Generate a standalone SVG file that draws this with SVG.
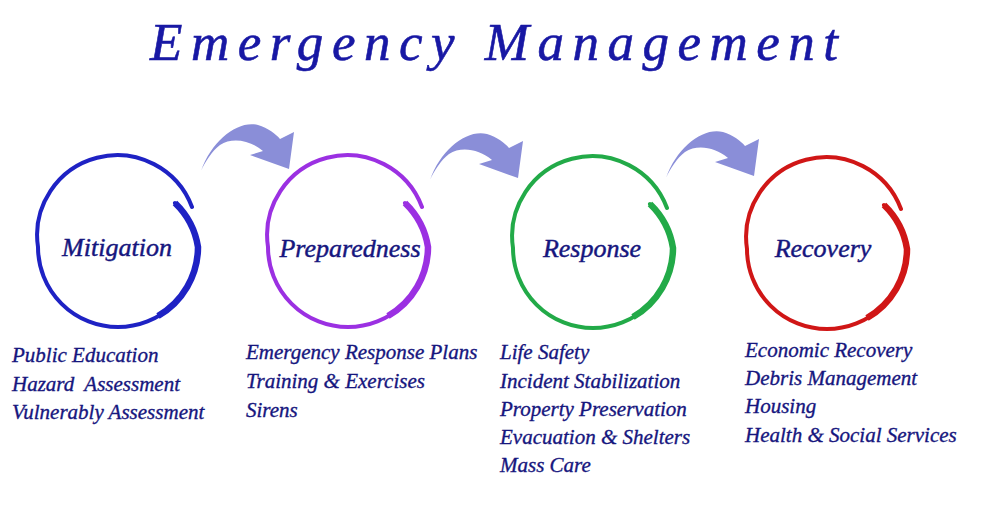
<svg xmlns="http://www.w3.org/2000/svg" xmlns:xlink="http://www.w3.org/1999/xlink" width="992" height="506" viewBox="0 0 992 506">
<style>
.title{font-family:"Liberation Serif","Times New Roman",serif;font-style:italic;font-size:53px;fill:#1818a4;stroke:#1818a4;stroke-width:0.6}
.label{font-family:"Liberation Serif","Times New Roman",serif;font-style:italic;font-size:26px;fill:#16167e;stroke:#16167e;stroke-width:0.45;text-anchor:middle}
.item{font-family:"Liberation Serif","Times New Roman",serif;font-style:italic;font-size:21px;fill:#16167e;stroke:#16167e;stroke-width:0.35}
.ring{fill:none;stroke-width:4;stroke-linecap:round}
.thick{fill:none;stroke-width:6.5;stroke-linecap:butt}
.arrow{fill:#8a8ed8}
</style>
<defs>
<path id="ringPath" d="M 74,-40 A 80 80 0 0 0 -80,0 A 80 80 0 0 0 80,0 A 78 78 0 0 0 57,-44"/>
<path id="thickPath" d="M 40,69 A 80 80 0 0 0 80,0 A 78 78 0 0 0 57,-44"/>
<path id="arrowPath" d="M 201,171 C 212,140 238,120 258,125 C 268,128 276,134 280,139 L 294,132 L 289,169 L 250,155 L 263,151 C 250,140 232,137 220,145 C 212,151 205,162 201,171 Z"/>
</defs>
<rect width="992" height="506" fill="#ffffff"/>
<text class="title" x="150" y="60" textLength="688" lengthAdjust="spacing">Emergency  Management</text>
<g id="connectors">
<use xlink:href="#arrowPath" class="arrow"/>
<use xlink:href="#arrowPath" class="arrow" transform="translate(229,9)"/>
<use xlink:href="#arrowPath" class="arrow" transform="translate(465,7)"/>
</g>
<g id="mitigation">
<g transform="translate(118,247)" stroke="#1e22c4">
<use xlink:href="#ringPath" class="ring"/>
<use xlink:href="#thickPath" class="thick"/>
</g>
<text class="label" x="117" y="256">Mitigation</text>
<text class="item" x="12" y="362">Public Education</text>
<text class="item" x="12" y="391" xml:space="preserve">Hazard  Assessment</text>
<text class="item" x="12" y="419">Vulnerably Assessment</text>
</g>
<g id="preparedness">
<g transform="translate(348,247)" stroke="#9b30e2">
<use xlink:href="#ringPath" class="ring"/>
<use xlink:href="#thickPath" class="thick"/>
</g>
<text class="label" x="350" y="257">Preparedness</text>
<text class="item" x="246" y="359">Emergency Response Plans</text>
<text class="item" x="246" y="388">Training &amp; Exercises</text>
<text class="item" x="246" y="417">Sirens</text>
</g>
<g id="response">
<g transform="translate(593,248)" stroke="#22aa48">
<use xlink:href="#ringPath" class="ring"/>
<use xlink:href="#thickPath" class="thick"/>
</g>
<text class="label" x="592" y="257">Response</text>
<text class="item" x="500" y="359">Life Safety</text>
<text class="item" x="500" y="388">Incident Stabilization</text>
<text class="item" x="500" y="416">Property Preservation</text>
<text class="item" x="500" y="444">Evacuation &amp; Shelters</text>
<text class="item" x="500" y="472">Mass Care</text>
</g>
<g id="recovery">
<g transform="translate(827,249)" stroke="#d01616">
<use xlink:href="#ringPath" class="ring"/>
<use xlink:href="#thickPath" class="thick"/>
</g>
<text class="label" x="823" y="257">Recovery</text>
<text class="item" x="745" y="357">Economic Recovery</text>
<text class="item" x="745" y="385">Debris Management</text>
<text class="item" x="745" y="413">Housing</text>
<text class="item" x="745" y="442">Health &amp; Social Services</text>
</g>
</svg>
